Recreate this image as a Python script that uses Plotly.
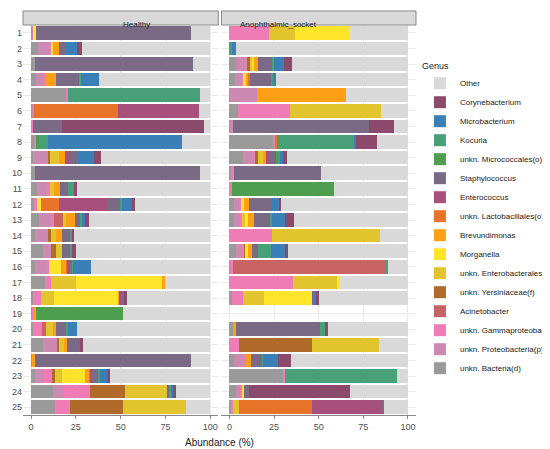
import plotly.graph_objects as go

samples = [str(i) for i in range(1, 26)]
genera = ["unkn. Bacteria(d)", "unkn. Proteobacteria(p)", "unkn. Gammaproteobacteria(c)", "Acinetobacter",
          "unkn. Yersiniaceae(f)", "unkn. Enterobacterales(o)", "Morganella", "Brevundimonas",
          "unkn. Lactobacillales(o)", "Enterococcus", "Staphylococcus", "unkn. Micrococcales(o)",
          "Kocuria", "Microbacterium", "Corynebacterium"]
colors = ["#9a9a9a", "#cc8ab2", "#f07cb6", "#c86464", "#b06a2a", "#e2c42e", "#ffe42a", "#ffa014",
          "#e8742a", "#a8507c", "#7b6a86", "#4f9e4f", "#47a077", "#3a7fb5", "#8b4a6b"]
other_color = "#d9d9d9"

# healthy rows: [bac, prot, gamma, acin, yers, entb, morg, brev, lact, entc, staph, micr, koc, microb, cory]
healthy = [
    [1, 0.5, 0, 0, 0, 0, 1, 0, 0, 0, 87, 0, 0, 0, 0],
    [3.8, 6.6, 1, 0, 0, 0, 1, 3, 0, 0, 4, 0, 0, 6, 3],
    [2, 0, 0, 0, 0, 0, 0, 0, 0, 0, 88.5, 0, 0, 0, 0],
    [2.5, 5, 1, 0, 0, 0, 0, 5.5, 0, 0, 12.5, 0, 1.5, 10, 0],
    [20, 0, 0.5, 0, 0, 0, 0, 0, 0, 0, 0, 0, 74, 0, 0],
    [1, 0.5, 0, 0, 0, 0, 0, 0, 47, 45, 0, 0, 0, 0, 0],
    [0, 0, 1, 0, 0, 0, 0, 0, 0, 0, 16.5, 0, 0, 0, 79],
    [1.5, 1.5, 0, 0, 0, 0, 0, 0, 0, 0, 0, 1.5, 5, 74.5, 0],
    [1, 8.5, 0, 0, 1, 5, 0, 3.5, 0, 2, 5, 0, 0, 9, 4],
    [2, 0, 0, 0, 0, 0, 0, 0, 0, 0, 92, 0, 0, 0, 0],
    [3.5, 5.5, 1.5, 0, 0, 2.5, 0, 3, 0, 0, 4.5, 0, 4, 0, 1],
    [1.5, 0, 2, 0, 0, 0, 2, 0, 10, 27, 7.5, 0, 0.5, 6, 1.5],
    [4.5, 6.5, 2, 5, 0, 1.5, 0, 5, 0, 0, 3, 0, 1, 1.5, 2.5],
    [2, 8, 0, 0, 1, 3, 0, 3, 0, 0, 5, 0, 1, 0, 1],
    [6.5, 4.5, 0, 0, 3, 3, 0, 0, 0, 0, 5, 0, 1, 0, 2],
    [2, 7, 1, 0, 0, 0, 6.5, 3, 1, 1, 1.5, 0, 0.5, 10, 0],
    [8, 0, 3, 0, 0, 14, 48.5, 1, 0, 0, 0, 0, 0, 0, 0],
    [1, 0, 4.5, 0, 0, 7.5, 36, 0.5, 0, 1, 1.5, 0, 0, 0, 1.5],
    [1, 0, 1, 0, 0, 0, 0, 1, 0, 0, 0, 48.5, 0, 0, 0],
    [1, 0, 5, 2.5, 0, 3.5, 0, 2, 0, 0, 6, 0, 0.5, 5, 0],
    [6.5, 8, 0, 0, 1, 3, 0, 1.5, 0, 0, 7.5, 0, 0, 0, 1.5],
    [0.5, 0, 0, 0, 0, 0, 0, 1.5, 0, 0, 87.5, 0, 0, 0, 0],
    [2, 5, 4.5, 0, 2, 4, 12.5, 2.5, 0.5, 1, 3.5, 0, 1, 4, 1.5],
    [12.5, 6, 14.5, 0, 19.5, 23.5, 0, 0, 0, 0, 1, 0, 1.5, 0.5, 2],
    [13.5, 0, 8, 0, 30, 35, 0, 0, 0, 0, 0, 0, 0, 0, 0],
]
socket = [
    [0, 0, 22, 0, 0, 14.5, 30.5, 0, 0, 0, 0, 0, 0, 0, 0],
    [0.5, 0, 0, 0, 0, 0, 0, 0, 0, 0, 0, 0, 1, 2, 0],
    [3.5, 6, 1, 0, 1, 1.5, 1, 2, 0, 0, 8.5, 0, 0.5, 5.5, 4.5],
    [3, 4, 1, 0, 0, 0, 1, 2, 0.5, 0, 12.5, 0, 0.5, 1.5, 0],
    [0.5, 15, 0, 0, 0, 0, 0, 49.5, 0, 0, 0, 0, 0, 0, 0],
    [5, 0, 29, 0, 0, 51, 0, 0, 0, 0, 0, 0, 0, 0, 0],
    [1, 1, 0, 0, 0, 0, 0, 0, 0, 0, 76, 0, 0, 0, 14],
    [25, 0, 1, 0, 0, 0, 0, 0, 0.5, 0, 0, 1.5, 42.5, 0.5, 11.5],
    [7.5, 6, 1.5, 0, 1, 3, 0, 2, 0, 1, 4, 1.5, 1, 1.5, 2],
    [1.5, 0, 1, 0, 0, 0, 0, 0, 0, 0, 49, 0, 0, 0, 0],
    [0, 0, 1.5, 0, 0, 0, 0, 0, 0, 0, 0, 57, 0, 0, 0],
    [2.5, 3.5, 1, 0, 0, 0, 1, 3, 0, 0, 13, 0, 0, 4.5, 0.5],
    [2.5, 4, 1, 0, 0, 1, 2, 3, 0, 0, 10, 0, 0.5, 7, 5],
    [0, 0, 24, 0, 0, 60.5, 0, 0, 0, 0, 0, 0, 0, 0, 0],
    [3.5, 4, 1, 0, 1, 0, 1, 2, 0, 0, 3.5, 0, 7.5, 7.5, 2],
    [1, 0, 1, 86.5, 0, 0, 0, 0, 0, 0, 0, 0, 0.5, 0, 0],
    [0, 0, 35.5, 0, 0, 24.5, 1.5, 0, 0, 0, 0, 0, 0, 0, 0],
    [1.5, 0, 6, 0, 0, 12, 27, 0.5, 0, 0, 1, 0, 0, 1, 1],
    None,
    [2.5, 0, 0, 0, 0, 0, 0, 1, 0, 0, 47, 0, 3.5, 0, 1],
    [0, 0, 5.5, 0, 40.5, 38, 0, 0, 0, 0, 0, 0, 0, 0, 0],
    [2.5, 5.5, 1, 0, 0, 0, 0, 3, 0, 0, 6.5, 0, 0.5, 8, 7.5],
    [30.5, 0, 0.5, 0, 0, 0, 0, 0, 0, 0, 0, 0, 63, 0, 0],
    [3.5, 3, 1, 0, 0, 0, 0.5, 0, 0, 0, 3, 0, 0, 0, 56.5],
    [1.5, 0, 0.5, 0, 0, 3.5, 0, 0, 41, 39.5, 0.5, 0, 0, 0, 0],
]

fig = go.Figure()
for panel, (rows, xa) in enumerate([(healthy, "x"), (socket, "x2")]):
    for gi, g in enumerate(genera):
        vals = [r[gi] if r is not None else None for r in rows]
        fig.add_bar(y=samples, x=vals, orientation="h", name=g, marker_color=colors[gi],
                    marker_line_width=0, xaxis=xa, yaxis="y", legendgroup=g, showlegend=(panel == 0))
    other = [100 - sum(r) if r is not None else None for r in rows]
    fig.add_bar(y=samples, x=other, orientation="h", name="Other", marker_color=other_color,
                marker_line_width=0, xaxis=xa, yaxis="y", legendgroup="Other", showlegend=(panel == 0))

axcommon = dict(range=[-4.5, 104.5], tickvals=[0, 25, 50, 75, 100], showgrid=True, gridcolor="#ebebeb",
                zeroline=False, showline=True, linecolor="#888", mirror=True, ticks="outside",
                ticklen=3, tickcolor="#888", tickfont=dict(size=9, color="#4d4d4d"))
fig.update_layout(
    width=550, height=449, barmode="stack", bargap=0.12,
    margin=dict(l=15, r=142, t=17, b=42, autoexpand=False),
    paper_bgcolor="white", plot_bgcolor="white",
    font=dict(family="Liberation Sans, Arial", color="#222"),
    xaxis=dict(domain=[0, 0.497], **axcommon),
    xaxis2=dict(domain=[0.505, 1], **axcommon),
    yaxis=dict(categoryorder="array", categoryarray=samples, autorange="reversed",
               showgrid=True, gridcolor="#ebebeb", ticks="", tickfont=dict(size=9, color="#4d4d4d")),
    legend=dict(title=dict(text="Genus", font=dict(size=9)), traceorder="reversed", x=1.01, y=0.5,
                yanchor="middle", font=dict(size=8), tracegroupgap=0, itemwidth=30,
                bgcolor="rgba(0,0,0,0)"),
    shapes=[
        dict(type="rect", xref="paper", yref="paper", x0=0, x1=0.497, y0=1, y1=1.036,
             fillcolor="#d9d9d9", line=dict(color="#888", width=1)),
        dict(type="rect", xref="paper", yref="paper", x0=0.505, x1=1, y0=1, y1=1.036,
             fillcolor="#d9d9d9", line=dict(color="#888", width=1)),
    ],
    annotations=[
        dict(text="Healthy", xref="paper", yref="paper", x=0.2485, y=1.018, showarrow=False, font=dict(size=8)),
        dict(text="Anophthalmic_socket", xref="paper", yref="paper", x=0.7525, y=1.018, showarrow=False, font=dict(size=8)),
        dict(text="Abundance (%)", xref="paper", yref="paper", x=0.5, y=-0.05, yanchor="top",
             showarrow=False, font=dict(size=10)),
    ],
)
fig.write_html("out.html")
